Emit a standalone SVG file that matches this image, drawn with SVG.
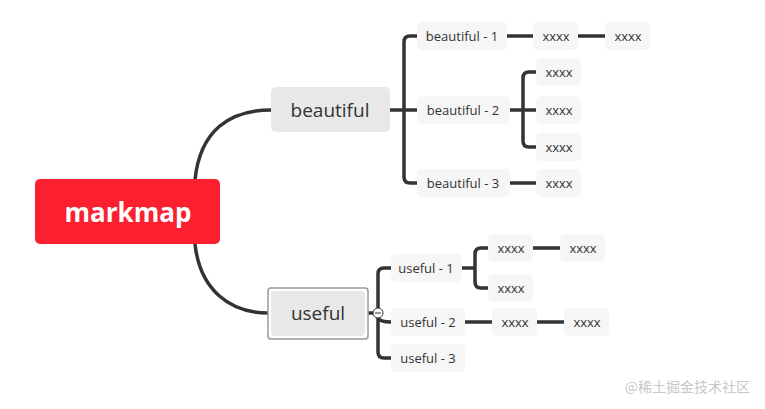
<svg xmlns="http://www.w3.org/2000/svg" width="765" height="409" viewBox="0 0 765 409">
<style>
.l{fill:none;stroke:#333;stroke-width:3.5;stroke-linecap:round;stroke-linejoin:round}
.n{fill:#f6f6f6}
.t{font-family:"Open Sans",Lato,sans-serif;font-size:13px;fill:#333;text-anchor:middle;dominant-baseline:central}
.b{font-size:19px}
</style>
<rect width="765" height="409" fill="#fff"/>
<g id="connectors">
<path class="l" d="M195,180 C200,130 230,110 271,110"/>
<path class="l" d="M195,244 C200,290 230,313 268,313"/>
<path class="l" d="M390,110 H404 M417,36 H410 Q404,36 404,42 V177 Q404,183 410,183 H417 M404,110 H417"/>
<path class="l" d="M507,36 H533 M578,36 H605"/>
<path class="l" d="M510,110 H523 M536,72 H529 Q523,72 523,78 V141 Q523,147 529,147 H536 M523,110 H536"/>
<path class="l" d="M510,183 H536"/>
<path class="l" d="M368,313 H373 M391,268 H384 Q378,268 378,274 V352 Q378,358 384,358 H391 M378,318 Q380,322 391,322"/>
<path class="l" d="M462,268 H475 M488,248 H481 Q475,248 475,254 V282 Q475,288 481,288 H488"/>
<path class="l" d="M533,248 H560"/>
<path class="l" d="M465,322 H492 M537,322 H564"/>
</g>
<g id="root"><rect x="35" y="179" width="185" height="65" rx="5" fill="#fc1f30"/><text class="t" x="128" y="212" style="font-size:26px;font-weight:bold;fill:#fff">markmap</text></g>
<g id="beautiful"><rect x="271" y="87" width="119" height="45" rx="5" fill="#e8e8e8"/><text class="t b" x="330" y="110">beautiful</text></g>
<g id="useful"><rect x="268" y="288" width="100" height="51" rx="3" fill="#fff" stroke="#999" stroke-width="1.5"/><rect x="271" y="291" width="94" height="45" rx="4" fill="#e8e8e8"/><text class="t b" x="318" y="313">useful</text><circle cx="378" cy="313" r="5" fill="#fff" stroke="#333" stroke-width="1"/><path d="M375,313 H381" stroke="#333" stroke-width="1"/></g>
<g id="b1"><rect class="n" x="417" y="22" width="90" height="28" rx="5"/><text class="t" x="462" y="36">beautiful - 1</text></g>
<g id="b2"><rect class="n" x="417" y="96" width="93" height="28" rx="5"/><text class="t" x="463" y="110">beautiful - 2</text></g>
<g id="b3"><rect class="n" x="417" y="169" width="93" height="28" rx="5"/><text class="t" x="463" y="183">beautiful - 3</text></g>
<g id="b1x1"><rect class="n" x="533" y="22" width="45" height="28" rx="5"/><text class="t" x="556" y="36">xxxx</text></g>
<g id="b1x2"><rect class="n" x="605" y="22" width="45" height="28" rx="5"/><text class="t" x="628" y="36">xxxx</text></g>
<g id="b2x1"><rect class="n" x="536" y="58" width="45" height="28" rx="5"/><text class="t" x="559" y="72">xxxx</text></g>
<g id="b2x2"><rect class="n" x="536" y="96" width="45" height="28" rx="5"/><text class="t" x="559" y="110">xxxx</text></g>
<g id="b2x3"><rect class="n" x="536" y="133" width="45" height="28" rx="5"/><text class="t" x="559" y="147">xxxx</text></g>
<g id="b3x1"><rect class="n" x="536" y="169" width="45" height="28" rx="5"/><text class="t" x="559" y="183">xxxx</text></g>
<g id="u1"><rect class="n" x="391" y="254" width="71" height="28" rx="5"/><text class="t" x="426" y="268">useful - 1</text></g>
<g id="u2"><rect class="n" x="391" y="308" width="74" height="28" rx="5"/><text class="t" x="428" y="322">useful - 2</text></g>
<g id="u3"><rect class="n" x="391" y="344" width="74" height="28" rx="5"/><text class="t" x="428" y="358">useful - 3</text></g>
<g id="u1x1"><rect class="n" x="488" y="234" width="45" height="28" rx="5"/><text class="t" x="511" y="248">xxxx</text></g>
<g id="u1x2"><rect class="n" x="560" y="234" width="45" height="28" rx="5"/><text class="t" x="583" y="248">xxxx</text></g>
<g id="u1x3"><rect class="n" x="488" y="274" width="45" height="28" rx="5"/><text class="t" x="511" y="288">xxxx</text></g>
<g id="u2x1"><rect class="n" x="492" y="308" width="45" height="28" rx="5"/><text class="t" x="515" y="322">xxxx</text></g>
<g id="u2x2"><rect class="n" x="564" y="308" width="45" height="28" rx="5"/><text class="t" x="587" y="322">xxxx</text></g>
<text x="750" y="386" style="font-family:'Noto Sans CJK SC',sans-serif;font-size:14px;fill:#c8c8c8;text-anchor:end;dominant-baseline:central">@稀土掘金技术社区</text>
</svg>
